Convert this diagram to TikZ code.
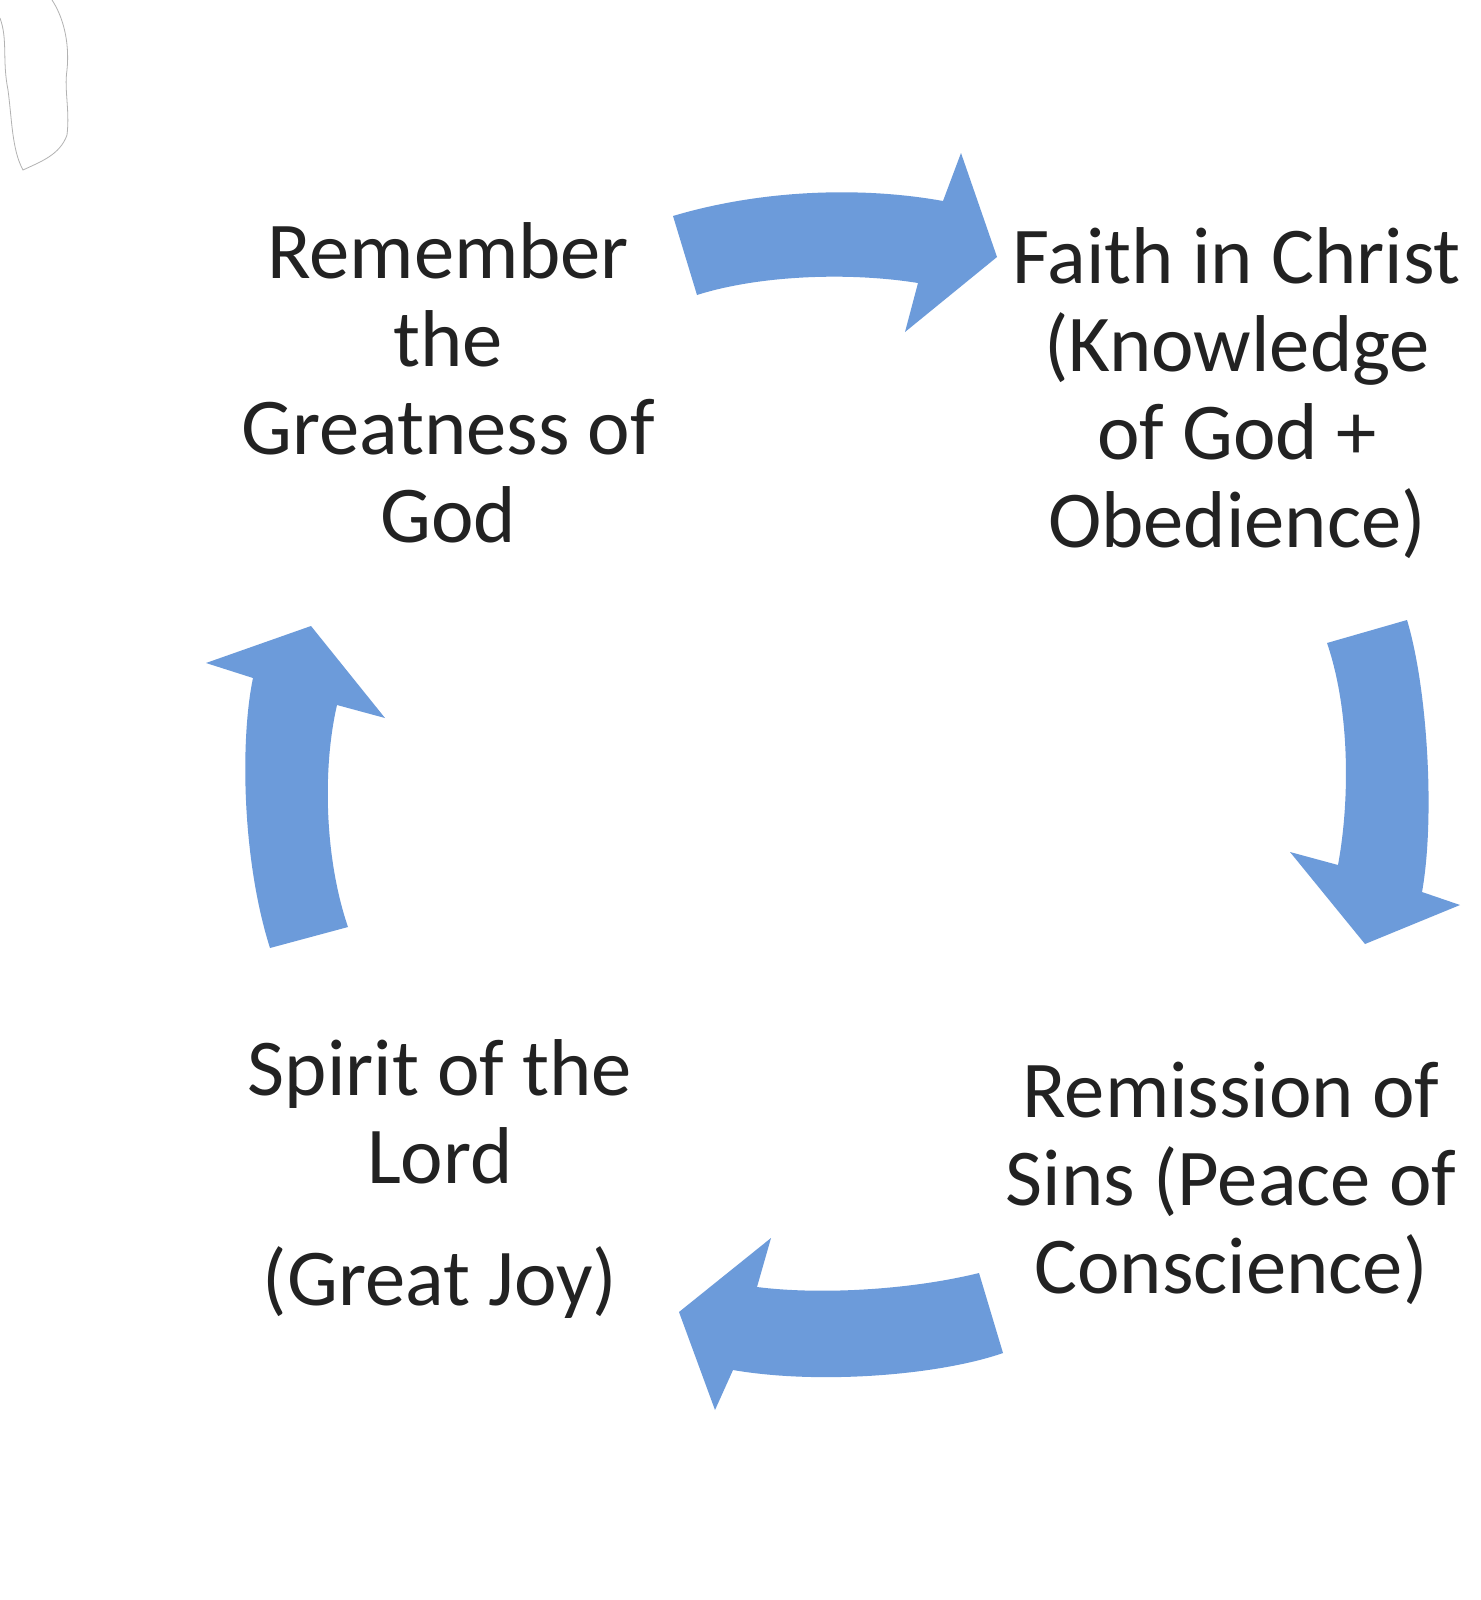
\documentclass[tikz,border=0pt]{standalone}
\usepackage{fontspec}
\setmainfont{Carlito}
\definecolor{arrowblue}{RGB}{108,155,218}
\definecolor{inkdark}{RGB}{34,34,34}
\begin{document}
\begin{tikzpicture}[x=0.5pt,y=-0.5pt,
  lbl/.style={align=center,inner sep=0pt,anchor=base,text=inkdark,
    font=\fontsize{40.3}{44}\selectfont},
  blockarrow/.style={fill=arrowblue,draw=none}]
\useasboundingbox[fill=white] (0,0) rectangle (1481,1600);
% pencil squiggle at top left
\draw[gray!60,line width=0.4pt] (0,18) .. controls (8,40) and (2,60) .. (8,90)
  .. controls (12,120) and (12,150) .. (23,170)
  .. controls (40,162) and (60,155) .. (67,135)
  .. controls (70,110) and (64,90) .. (67,70)
  .. controls (70,40) and (62,15) .. (52,0);
% text nodes (anchor = baseline of last line)
\node[lbl] (remember) at (448,542) {Remember\\the\\Greatness of\\God};
\node[lbl] (faith) at (1237,547) {Faith in Christ\\(Knowledge\\of God +\\Obedience)};
\node[lbl] (remission) at (1231,1293) {Remission of\\Sins (Peace of\\Conscience)};
\node[lbl] (spirit) at (440,1305) {Spirit of the\\Lord\\[17pt](Great Joy)};
% block arrows
\fill[blockarrow] (673,216) .. controls (760,190) and (860,186) .. (943,201)
  -- (961,153) -- (997,257) -- (905,332) -- (918,283)
  .. controls (850,272) and (760,275) .. (697,295) -- cycle;
\fill[blockarrow] (1327,643) -- (1407,620) .. controls (1428,690) and (1435,820) .. (1422,892)
  -- (1460,905) -- (1365,944) -- (1290,852) -- (1338,865)
  .. controls (1350,800) and (1350,710) .. (1327,643) -- cycle;
\fill[blockarrow] (979,1273) -- (1003,1353) .. controls (940,1375) and (820,1385) .. (733,1370)
  -- (715,1410) -- (679,1312) -- (771,1238) -- (757,1287)
  .. controls (820,1295) and (910,1290) .. (979,1273) -- cycle;
\fill[blockarrow] (270,948) -- (348,927) .. controls (325,860) and (322,770) .. (337,705)
  -- (385,718) -- (311,626) -- (206,663) -- (253,678)
  .. controls (240,740) and (242,860) .. (270,948) -- cycle;
\end{tikzpicture}
\end{document}
